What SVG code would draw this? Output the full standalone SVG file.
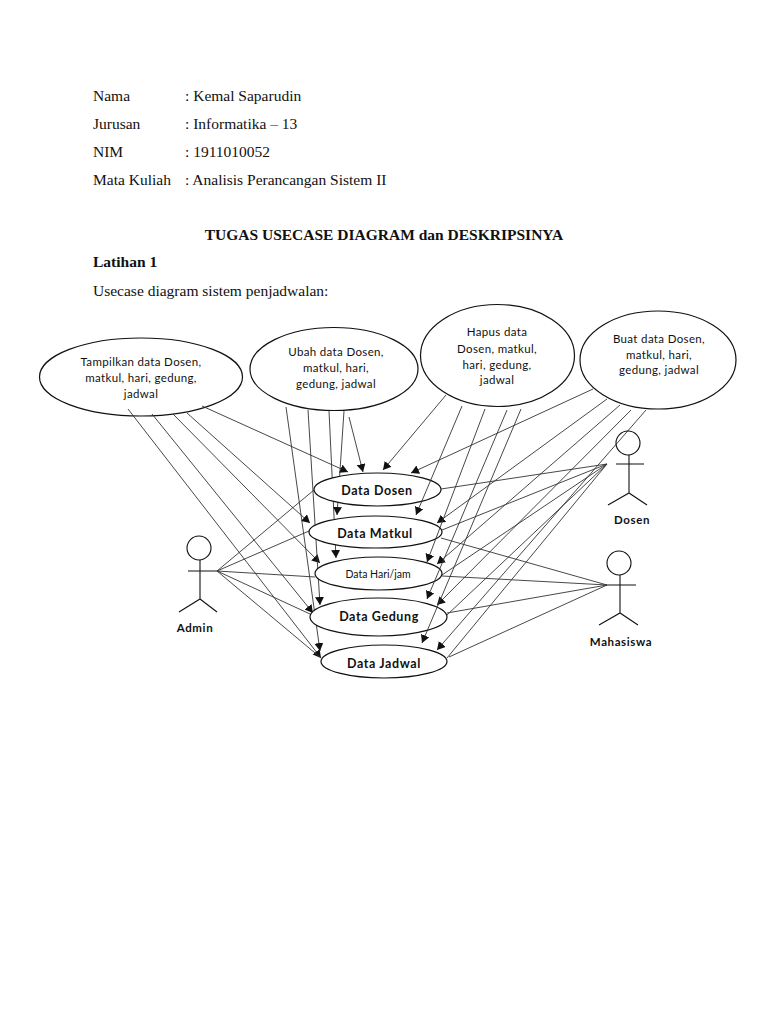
<svg xmlns="http://www.w3.org/2000/svg" width="768" height="1024" viewBox="0 0 768 1024">
<style>
.h{font-family:"Liberation Serif","Times New Roman",serif;font-size:15.5px;fill:#111}
.b{font-weight:bold}
.n{font-family:Lato,"Open Sans",sans-serif;fill:#111;text-anchor:middle;font-size:11.5px;letter-spacing:.35px}
.d{font-size:12.5px;font-weight:bold;letter-spacing:.6px}
.l{font-weight:bold;letter-spacing:.6px}
.e{fill:#fff;stroke:#111;stroke-width:1.2}
.s{fill:none;stroke:#111;stroke-width:1.1}
.c line{stroke:#333;stroke-width:.9;fill:none}
.c .a{marker-end:url(#arr)}
</style>
<defs><marker id="arr" markerUnits="userSpaceOnUse" markerWidth="10" markerHeight="10" refX="8" refY="4.5" orient="auto"><path d="M0 0L8 4.5L0 9Z" fill="#111"/></marker></defs>
<rect width="768" height="1024" fill="#fff"/>
<g id="header">
<text class="h" x="93" y="101">Nama</text><text class="h" x="185" y="101">: Kemal Saparudin</text>
<text class="h" x="93" y="129">Jurusan</text><text class="h" x="185" y="129">: Informatika – 13</text>
<text class="h" x="93" y="157">NIM</text><text class="h" x="185" y="157">: 1911010052</text>
<text class="h" x="93" y="185">Mata Kuliah</text><text class="h" x="185" y="185">: Analisis Perancangan Sistem II</text>
<text class="h b" x="384" y="240" text-anchor="middle">TUGAS USECASE DIAGRAM dan DESKRIPSINYA</text>
<text class="h b" x="93" y="267">Latihan 1</text>
<text class="h" x="93" y="296">Usecase diagram sistem penjadwalan:</text>
</g>
<g id="uc-tampilkan"><ellipse class="e" cx="141" cy="377" rx="101.5" ry="39"/><text class="n" x="141" y="366">Tampilkan data Dosen,</text><text class="n" x="141" y="382">matkul, hari, gedung,</text><text class="n" x="141" y="398">jadwal</text></g>
<g id="uc-ubah"><ellipse class="e" cx="334" cy="369" rx="84" ry="41.5"/><text class="n" x="336" y="356">Ubah data Dosen,</text><text class="n" x="336" y="372">matkul, hari,</text><text class="n" x="336" y="388">gedung, jadwal</text></g>
<g id="uc-hapus"><ellipse class="e" cx="497.5" cy="355.5" rx="77" ry="51"/><text class="n" x="497" y="336">Hapus data</text><text class="n" x="497" y="353">Dosen, matkul,</text><text class="n" x="497" y="369">hari, gedung,</text><text class="n" x="497" y="384">jadwal</text></g>
<g id="uc-buat"><ellipse class="e" cx="658" cy="360" rx="78" ry="49"/><text class="n" x="659" y="343">Buat data Dosen,</text><text class="n" x="659" y="359">matkul, hari,</text><text class="n" x="659" y="374">gedung, jadwal</text></g>
<g id="connectors" class="c">
<line class="a" x1="202" y1="406" x2="348" y2="472"/>
<line class="a" x1="187" y1="413" x2="310" y2="523"/>
<line class="a" x1="173" y1="414" x2="320" y2="563"/>
<line class="a" x1="152" y1="414" x2="313" y2="613"/>
<line class="a" x1="128" y1="409" x2="321" y2="658"/>
<line class="a" x1="286" y1="407" x2="320" y2="651"/>
<line class="a" x1="308" y1="410" x2="320" y2="605"/>
<line class="a" x1="329" y1="411" x2="336" y2="558"/>
<line class="a" x1="344" y1="411" x2="337" y2="515"/>
<line class="a" x1="349" y1="417" x2="363" y2="472"/>
<line class="a" x1="446" y1="395" x2="383" y2="470"/>
<line class="a" x1="593" y1="389" x2="411" y2="473"/>
<line class="a" x1="607" y1="399" x2="437" y2="523"/>
<line class="a" x1="620" y1="405" x2="437" y2="564"/>
<line class="a" x1="631" y1="410" x2="437" y2="605"/>
<line class="a" x1="646" y1="410" x2="437" y2="650"/>
<line x1="607" y1="464" x2="441" y2="489"/>
<line x1="607" y1="464" x2="442" y2="530"/>
<line x1="607" y1="464" x2="442" y2="575"/>
<line x1="607" y1="464" x2="447" y2="615"/>
<line x1="607" y1="464" x2="447" y2="658"/>
<line x1="607" y1="585" x2="441" y2="538"/>
<line x1="607" y1="585" x2="442" y2="576"/>
<line x1="607" y1="585" x2="447" y2="613"/>
<line x1="607" y1="585" x2="449" y2="657"/>
<line x1="217" y1="571" x2="314" y2="490"/>
<line x1="217" y1="571" x2="309" y2="531"/>
<line x1="217" y1="571" x2="315" y2="577"/>
<line x1="217" y1="571" x2="310" y2="614"/>
<line x1="217" y1="571" x2="321" y2="658"/>
</g>
<g id="data-dosen"><ellipse class="e" cx="377.5" cy="489.5" rx="63.5" ry="16.5"/><text class="n d" x="377" y="495">Data Dosen</text></g>
<g id="data-matkul"><ellipse class="e" cx="375.5" cy="532" rx="66.5" ry="16"/><text class="n d" x="375" y="538">Data Matkul</text></g>
<g id="data-hari"><ellipse class="e" cx="378.5" cy="573.5" rx="63.5" ry="16.5"/><text class="n" x="378" y="578" style="font-size:10.5px;letter-spacing:0">Data Hari/jam</text></g>
<g id="data-gedung"><ellipse class="e" cx="378.5" cy="617" rx="68.5" ry="19"/><text class="n d" x="379" y="621">Data Gedung</text></g>
<g id="data-jadwal"><ellipse class="e" cx="384" cy="661.5" rx="63" ry="16.5"/><text class="n d" x="384" y="668">Data Jadwal</text></g>
<g id="connectors-front" class="c">
<line class="a" x1="462" y1="406" x2="416" y2="515"/>
<line class="a" x1="485" y1="409" x2="427" y2="562"/>
<line class="a" x1="507" y1="410" x2="427" y2="599"/>
<line class="a" x1="521" y1="409" x2="422" y2="643"/>
</g>
<g id="actor-admin"><circle class="s" cx="199" cy="548" r="12"/><path class="s" d="M200 560V599M188 571H217M179 612L200 599L217 612"/><text class="n l" x="195" y="632">Admin</text></g>
<g id="actor-dosen"><circle class="s" cx="628" cy="443" r="12"/><path class="s" d="M629 455V493M616 464H644M608 505L629 493L647 505"/><text class="n l" x="632" y="524">Dosen</text></g>
<g id="actor-mahasiswa"><circle class="s" cx="619" cy="563" r="12"/><path class="s" d="M620 575V613M607 585H636M599 625L620 613L638 625"/><text class="n l" x="621" y="646">Mahasiswa</text></g>
</svg>
